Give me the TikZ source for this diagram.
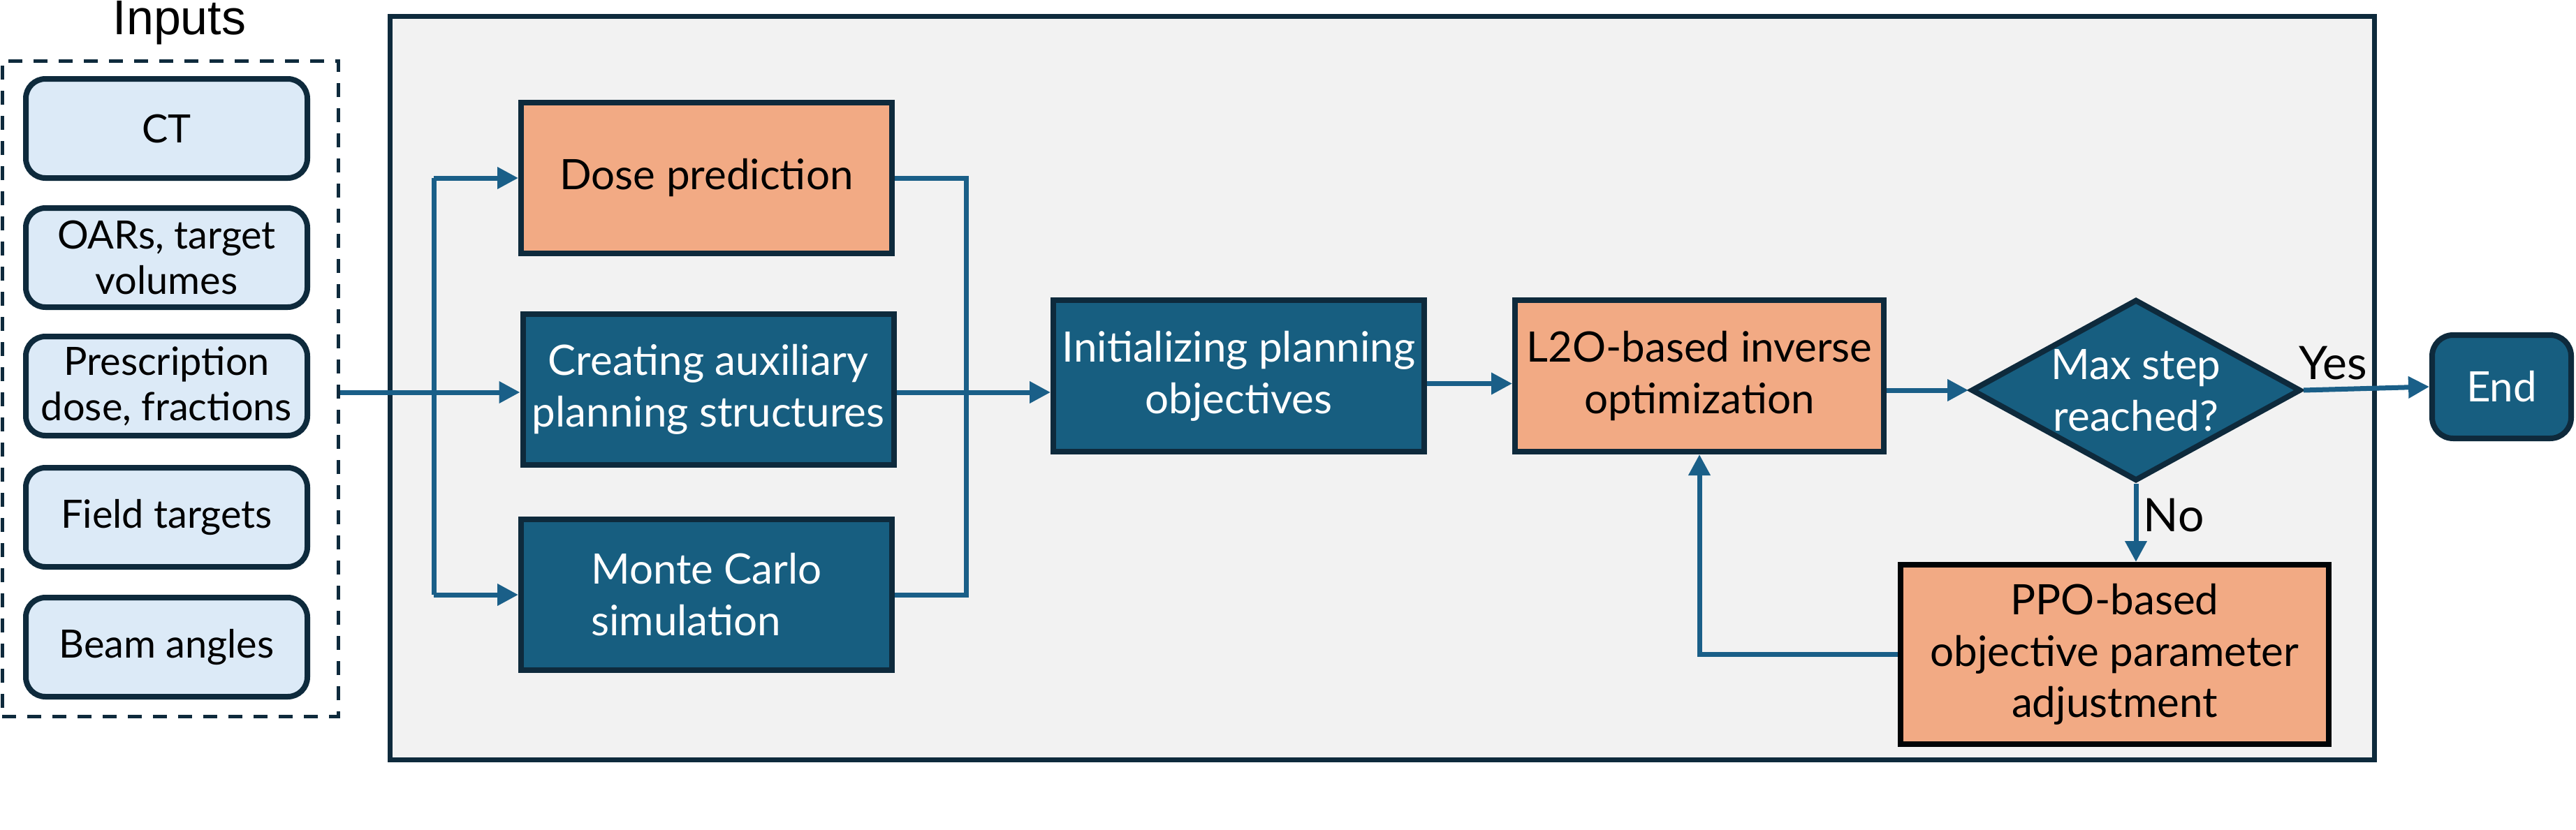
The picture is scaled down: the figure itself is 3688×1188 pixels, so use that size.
\documentclass[tikz,border=0pt]{standalone}
\usepackage{fontspec}
\setmainfont{Lato}
\newfontfamily\arialf{Liberation Sans}
\usetikzlibrary{arrows.meta,shapes.geometric,calc}
\definecolor{navyB}{HTML}{0E2A3C}
\definecolor{blueF}{HTML}{175E80}
\definecolor{lineC}{HTML}{1A5F88}
\definecolor{orangeF}{HTML}{F2AA84}
\definecolor{lightF}{HTML}{DCEAF7}
\definecolor{grayF}{HTML}{F2F2F2}
\newcommand{\fsIn}{\fontsize{15.9pt}{18.5pt}\selectfont}
\newcommand{\fsMain}{\fontsize{17.1pt}{21pt}\selectfont}
\newcommand{\fsLab}{\fontsize{18.8pt}{22pt}\selectfont}
\newcommand{\fsTitle}{\arialf\fontsize{19.9pt}{23pt}\selectfont}
\begin{document}
\begin{tikzpicture}[x=0.1mm,y=-0.1mm,
  inbox/.style={draw=navyB, line width=0.8mm, fill=lightF, rounded corners=2.8mm,
    minimum width=40.3mm, minimum height=14.2mm, inner sep=0, align=center, font=\fsIn},
  mainbox/.style={draw=navyB, line width=0.8mm, minimum width=53.1mm, minimum height=21.6mm,
    inner sep=0, align=center, font=\fsMain},
  bluebox/.style={mainbox, fill=blueF, text=white},
  orangebox/.style={mainbox, fill=orangeF, text=black},
  conn/.style={draw=lineC, line width=0.7mm},
  arr/.style={conn, -{Triangle[length=3mm,width=3mm]}},
  lab/.style={font=\fsLab, text=black, inner sep=0}
]
\fill[white] (0,0) rectangle (3688,1188);
\useasboundingbox (0,0) rectangle (3688,1188);

% panel
\node[draw=navyB, line width=0.7mm, fill=grayF, minimum width=284.1mm, minimum height=106.5mm, inner sep=0] (panel) at (1979,556) {};

% inputs
\node[draw=navyB, line width=0.5mm, dash pattern=on 2mm off 1.6mm, minimum width=48.1mm, minimum height=93.9mm, inner sep=0] (inputs) at (243.5,556.5) {};
\node[font=\fsTitle, anchor=base, inner sep=0] (title) at (257,49) {Inputs};
\node[inbox] (ct) at (238.5,184) {CT};
\node[inbox] (oar) at (238.5,369) {OARs, target\\volumes};
\node[inbox] (presc) at (238.5,553) {Prescription\\dose, fractions};
\node[inbox] (field) at (238.5,741) {Field targets};
\node[inbox] (beam) at (238.5,927) {Beam angles};

% main boxes
\node[orangebox] (dose) at (1011.5,255) {Dose prediction};
\node[bluebox] (aux) at (1014,558) {Creating auxiliary\\planning structures};
\node[bluebox, align=left] (mc) at (1011.5,852) {Monte Carlo\\simulation};
\node[bluebox, minimum height=21.7mm] (init) at (1773.5,538.5) {Initializing planning\\objectives};
\node[orangebox, minimum width=52.8mm, minimum height=21.7mm] (l2o) at (2433,538.5) {L2O-based inverse\\optimization};
\node[draw=navyB, line width=0.8mm, fill=blueF, text=white, shape=diamond, aspect=1.8,
  minimum width=47.2mm, minimum height=26mm, inner sep=0, align=center, font=\fsMain] (dec) at (3058,559) {Max step\\reached?};
\node[draw=navyB, line width=0.8mm, fill=blueF, text=white, rounded corners=3mm,
  minimum width=19.9mm, minimum height=14.8mm, inner sep=0, font=\fsMain] (end) at (3581.5,554) {End};
\node[draw=black!90!navyB, line width=0.8mm, fill=orangeF, text=black, minimum width=61.3mm, minimum height=25.7mm,
  inner sep=0, align=center, font=\fsMain] (ppo) at (3027.5,937.5) {PPO-based\\objective parameter\\adjustment};

% connectors
\coordinate (busL) at (621,558);
\coordinate (busR) at (1383,558);
\draw[arr] ([yshift=-0.4mm]inputs.east |- aux.west) -- ([yshift=-0.4mm]aux.west);
\draw[conn] (busL |- dose.west) -- (busL |- mc.west);
\draw[arr] (busL |- dose.west) -- (dose.west);
\draw[arr] (busL |- mc.west) -- (mc.west);
\draw[conn] (dose.east) -- (busR |- dose.east) -- (busR |- mc.east) -- (mc.east);
\draw[arr] ([yshift=-0.4mm]aux.east) -- ([yshift=-0.4mm]aux.east -| init.west);
\draw[arr] ([yshift=-1.1mm]init.east) -- ([yshift=-1.1mm]l2o.west);
\draw[arr] (l2o.east |- dec.west) -- (dec.west);
\draw[arr] (dec.east) -- (end.west);
\draw[arr] (dec.south) -- (dec.south |- ppo.north);
\draw[arr] (ppo.west) -- (l2o.south |- ppo.west) -- (l2o.south);

% labels
\node[lab] (yes) at (3340,520) {Yes};
\node[lab] (no) at (3112,738) {No};
\end{tikzpicture}
\end{document}
